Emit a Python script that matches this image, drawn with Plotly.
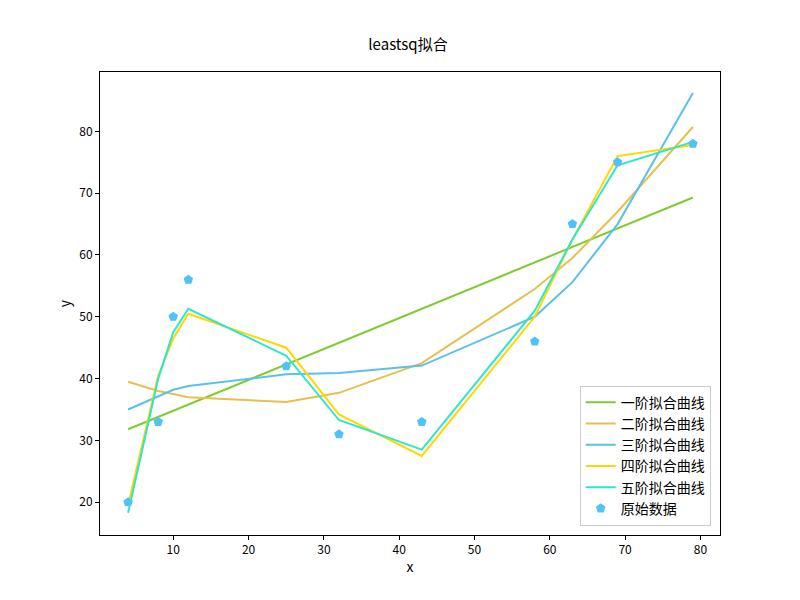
import plotly.graph_objects as go

x = [4, 8, 10, 12, 25, 32, 43, 58, 63, 69, 79]
y = [20, 33, 50, 56, 42, 31, 33, 46, 65, 75, 78]
fit1 = [31.8, 33.8, 34.8, 35.8, 42.3, 45.8, 51.3, 58.8, 61.3, 64.3, 69.3]
fit2 = [39.5, 38.0, 37.5, 37.0, 36.2, 37.7, 42.5, 54.5, 59.5, 67.0, 80.7]
fit3 = [35.0, 37.2, 38.2, 38.8, 40.7, 40.9, 42.1, 50.0, 55.6, 65.0, 86.2]
fit4 = [19.5, 40.5, 46.5, 50.5, 45.0, 34.2, 27.5, 50.0, 62.5, 76.0, 77.8]
fit5 = [18.3, 40.0, 47.5, 51.3, 43.7, 33.3, 28.5, 51.0, 62.5, 74.5, 78.3]
names = ["一阶拟合曲线", "二阶拟合曲线", "三阶拟合曲线", "四阶拟合曲线", "五阶拟合曲线"]
colors = ["#7ccd32", "#e6c04f", "#5bc0eb", "#ffd700", "#2ee6c8"]

fig = go.Figure()
for f, n, c in zip([fit1, fit2, fit3, fit4, fit5], names, colors):
    fig.add_trace(go.Scatter(x=x, y=f, mode="lines", name=n, line=dict(color=c, width=2)))
fig.add_trace(go.Scatter(x=x, y=y, mode="markers", name="原始数据",
                         marker=dict(symbol="pentagon", color="#4fc3f7", size=10)))

ax = dict(showgrid=False, zeroline=False, showline=True, mirror=True, linecolor="black",
          ticks="outside", ticklen=4, tickcolor="black")
fig.update_layout(
    width=800, height=600, plot_bgcolor="white", paper_bgcolor="white",
    margin=dict(l=92, r=88, t=64, b=73),
    font=dict(family="Noto Sans CJK SC, DejaVu Sans", size=12, color="black"),
    title=dict(text="leastsq拟合", x=0.5, xanchor="center", y=0.93, yanchor="bottom", font=dict(size=15)),
    xaxis=dict(ax, range=[0.27, 82.6], dtick=10, title=dict(text="x", font=dict(size=14), standoff=5)),
    yaxis=dict(ax, range=[14.7, 89.6], dtick=10, title=dict(text="y", font=dict(size=14), standoff=5)),
    legend=dict(x=0.985, y=0.02, xanchor="right", yanchor="bottom", bgcolor="white",
                bordercolor="#cccccc", borderwidth=1, font=dict(size=14)),
)
fig.write_html("out.html")
